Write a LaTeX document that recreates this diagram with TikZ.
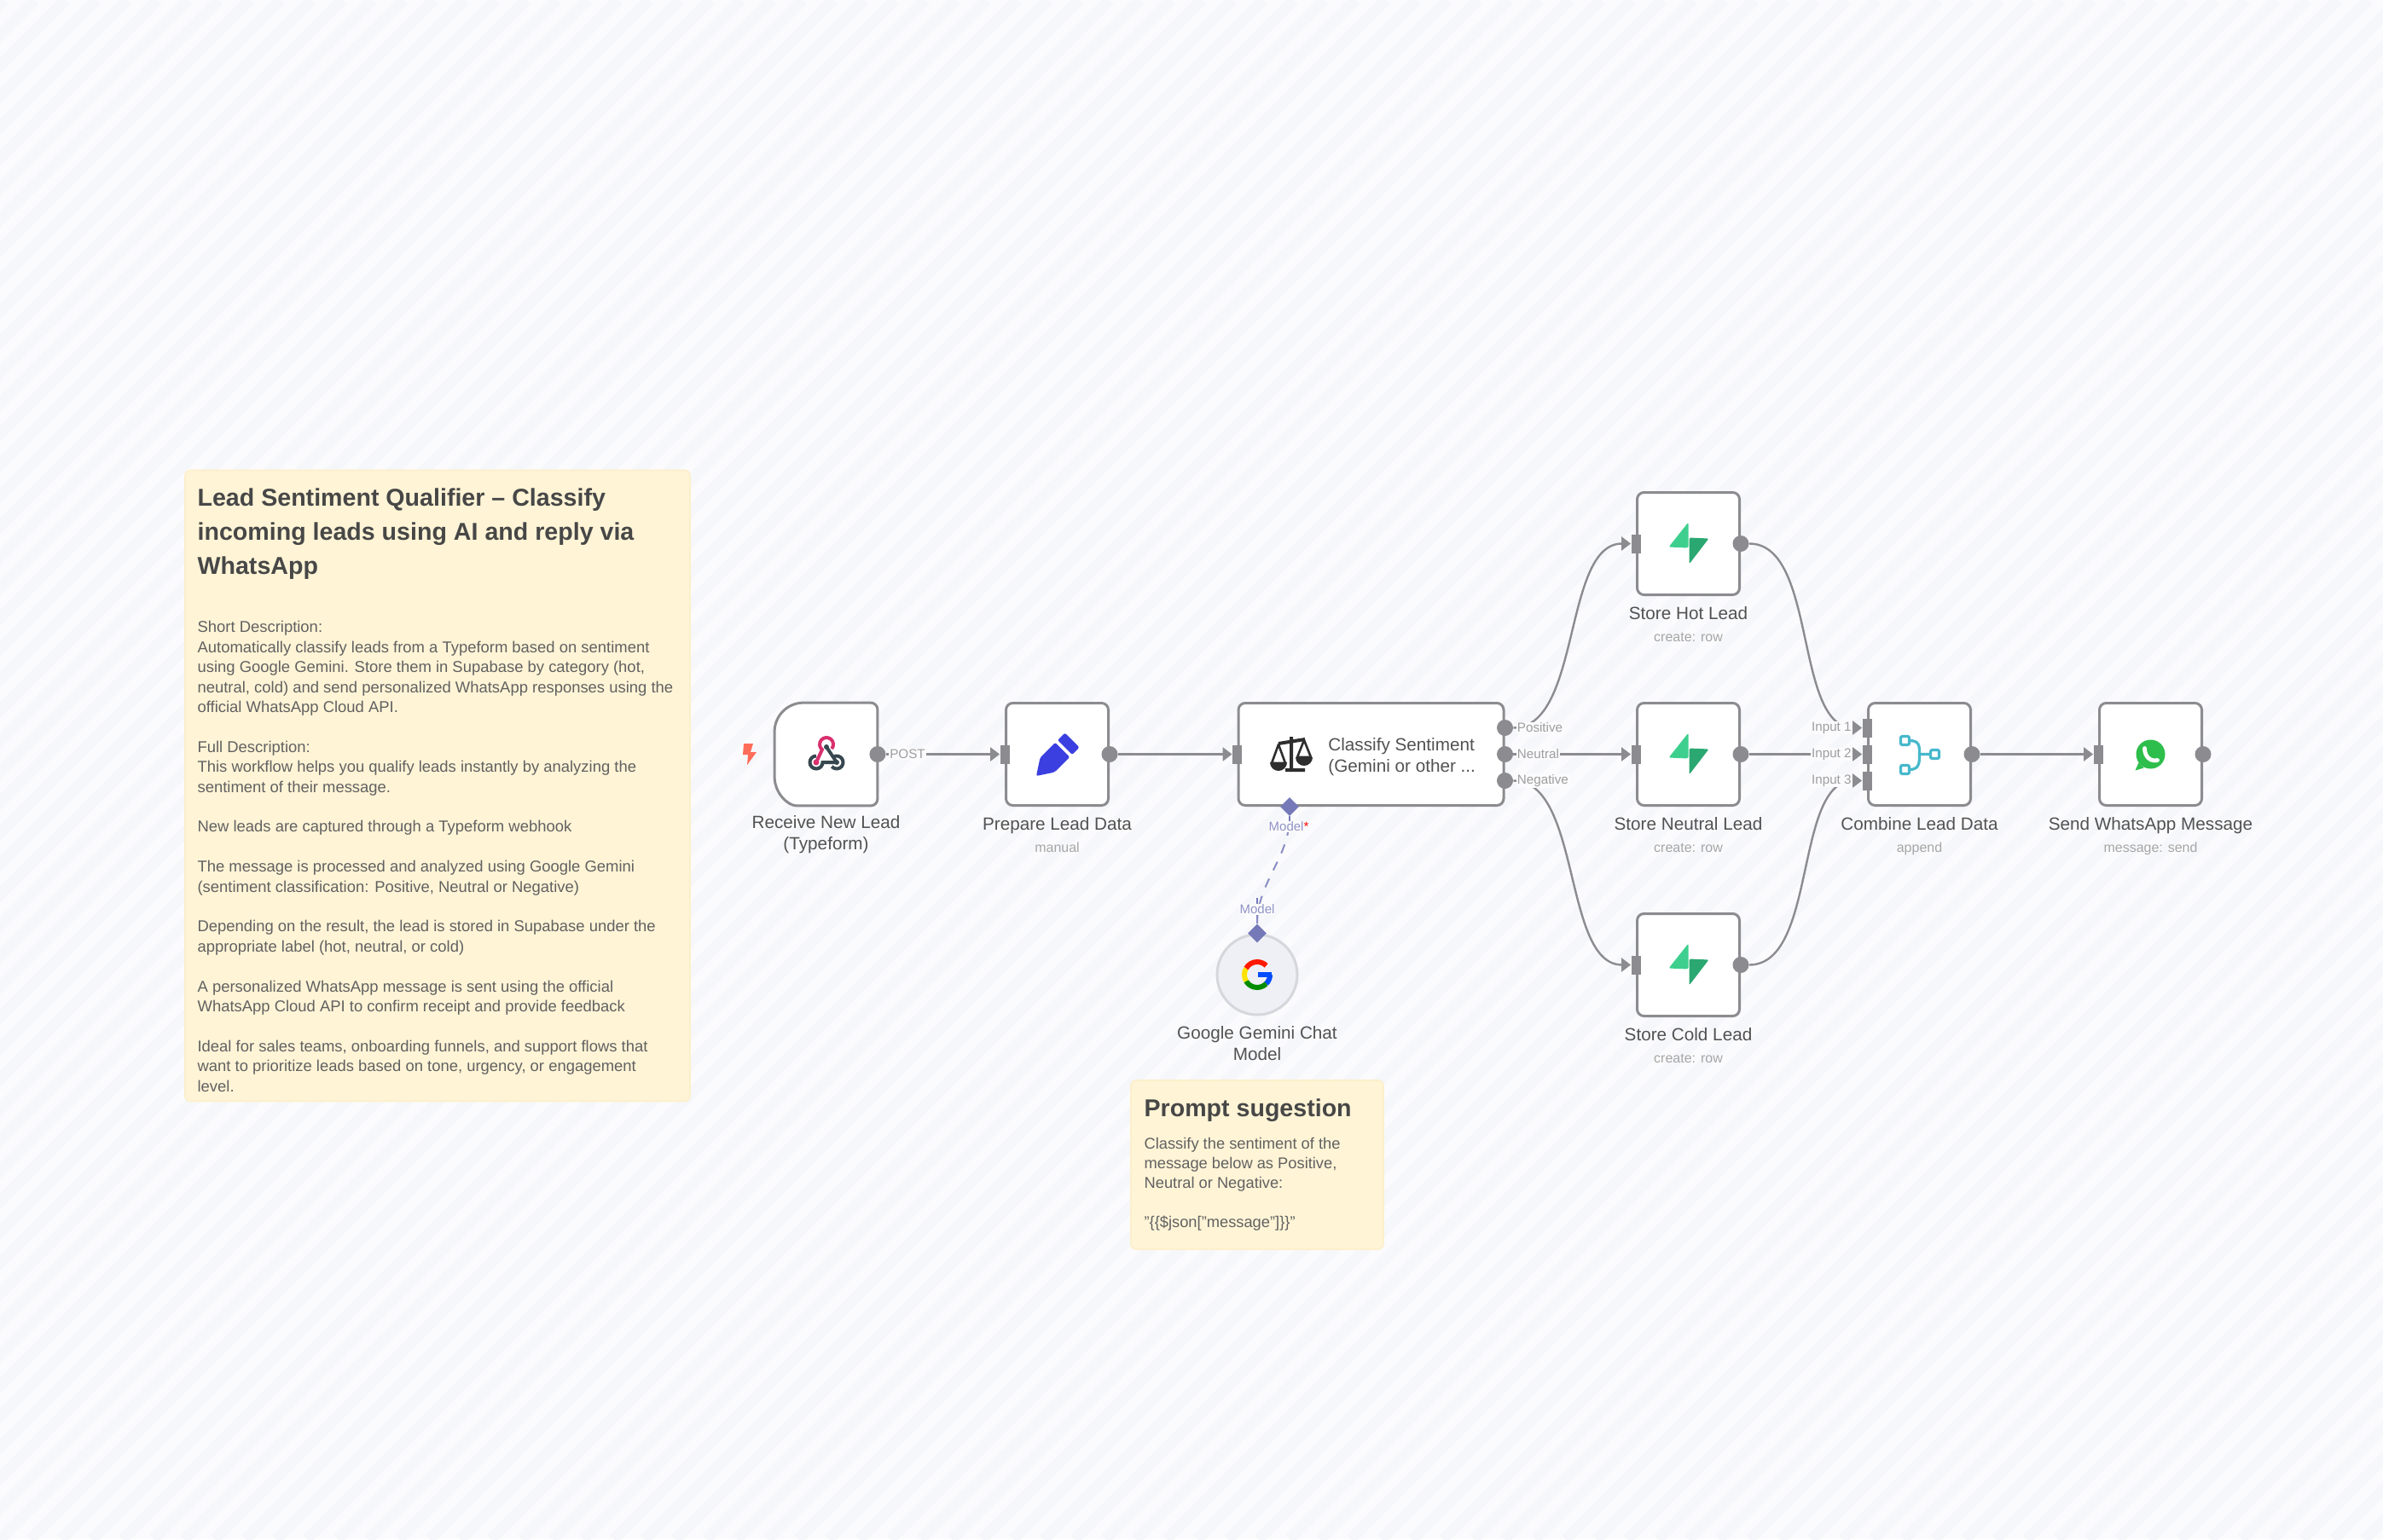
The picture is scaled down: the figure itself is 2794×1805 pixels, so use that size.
\documentclass[tikz,border=0pt]{standalone}
\usepackage{fontspec}
\setmainfont{Liberation Sans}
\usepackage{tikz}
\usetikzlibrary{shapes.geometric, arrows.meta}
\definecolor{paperbg}{HTML}{FBFBFD}
\definecolor{paperstripe}{HTML}{F6F7FA}
\definecolor{flowgray}{HTML}{8C8C90}
\definecolor{notefill}{HTML}{FFF4D6}
\definecolor{noteline}{HTML}{FCEFCB}
\definecolor{modelblue}{HTML}{7679B8}
\definecolor{geminifill}{HTML}{EEF0F5}
\definecolor{geminiline}{HTML}{D5D7DC}
\definecolor{supalight}{HTML}{3ECF8E}
\definecolor{supadark}{HTML}{2BA871}
\definecolor{mergeteal}{HTML}{46B8CC}
\definecolor{boltred}{HTML}{FF6D5A}
\definecolor{hookpink}{HTML}{D9306E}
\definecolor{hookdark}{HTML}{37474F}
\definecolor{pencilblue}{HTML}{3B3FE0}
\definecolor{whatsgreen}{HTML}{2DBE4B}
\tikzstyle{stripe} = [paperstripe, line width=6.4pt]
\tikzstyle{flowbox} = [rectangle, rounded corners=4pt, minimum width=60pt, minimum height=60pt, draw=flowgray, line width=1.5pt, fill=white]
\tikzstyle{classifybox} = [flowbox, minimum width=155.5pt]
\tikzstyle{triggerbox} = [rectangle, minimum width=60pt, minimum height=60pt]
\tikzstyle{triggerline} = [draw=flowgray, line width=1.5pt, fill=white]
\tikzstyle{modelcircle} = [circle, minimum size=47pt, draw=geminiline, line width=1.5pt, fill=geminifill]
\tikzstyle{outport} = [circle, minimum size=9.5pt, inner sep=0pt, fill=flowgray]
\tikzstyle{inport} = [rectangle, minimum width=5.5pt, minimum height=11pt, inner sep=0pt, fill=flowgray]
\tikzstyle{modelport} = [diamond, minimum size=11pt, inner sep=0pt, fill=modelblue]
\tikzstyle{arrow} = [flowgray, line width=1.2pt, -{Stealth[inset=0pt,length=5.5pt,width=8pt]}]
\tikzstyle{modelline} = [modelblue!85, line width=1pt, dash pattern=on 5.5pt off 5.5pt]
\tikzstyle{modelstem} = [modelblue, line width=1.2pt]
\tikzstyle{nametext} = [anchor=base, yshift=-13.5pt, inner sep=0pt, align=center, text=black!68, font=\fontsize{10.35}{12.5}\selectfont]
\tikzstyle{subtext} = [anchor=base, yshift=-26.5pt, inner sep=0pt, text=black!35, font=\fontsize{8}{10}\selectfont]
\tikzstyle{edgetag} = [inner sep=0.5pt, fill=paperbg, text=black!38, font=\fontsize{7.6}{8}\selectfont]
\tikzstyle{outtag} = [edgetag, anchor=west, xshift=6.5pt]
\tikzstyle{intag} = [edgetag, anchor=east, xshift=-8.5pt]
\tikzstyle{modeltag} = [inner sep=0.5pt, fill=paperbg, text=modelblue!80, font=\fontsize{7.5}{8}\selectfont]
\tikzstyle{notebox} = [rectangle, rounded corners=3pt, draw=noteline, line width=0.8pt, fill=notefill]
\tikzstyle{notetitle} = [anchor=north west, inner sep=0pt, align=left, text=black!72, font=\bfseries\fontsize{14.3}{19.8}\selectfont]
\tikzstyle{notebody} = [anchor=north west, inner sep=0pt, align=left, text=black!62, font=\fontsize{9.22}{11.7}\selectfont]
\tikzset{
    triggerbolt/.pic={
        \fill [boltred] (-6,-12) -- (5,-12) -- (2,-2) -- (9,-2) -- (-2,13) -- (-1,1) -- (-7,1) -- cycle;
    },
    webhookicon/.pic={
        \draw [hookdark, line width=2pt] (0,-9) -- (12,9);
        \draw [hookdark, line width=2pt] (-12,1.5) arc (270:0:7.5) -- (12,9);
        \draw [hookdark, line width=2pt] (8.25,2.5) arc (240:500:7.5);
        \draw [hookpink, line width=2pt] (-12,9) -- (-5.1,-5.9) arc (130:400:8);
        \fill [hookpink] (-12,9) circle [radius=3.5];
        \fill [hookdark] (0,-9) circle [radius=3];
        \fill [hookdark] (12,9) circle [radius=3];
    },
    pencilicon/.pic={
        \fill [pencilblue, rounded corners=1pt] (-25,25) -- (-3.5,20.5) -- (14.2,2.8) -- (-2.8,-14.2) -- (-20.5,3.5) -- cycle;
        \fill [pencilblue, rounded corners=1pt] (17,0) -- (25.5,-8.5) -- (8.5,-25.5) -- (0,-17) -- cycle;
    },
    scaleicon/.pic={
        \draw [black!82, line width=2pt] (-14,-13) -- (17,-18) (1,-21) -- (1,18) (-6,18) -- (17,18);
        \draw [black!82, line width=1.3pt, line join=round] (-22,10) -- (-14,-12) -- (-6,10) -- cycle (8,3) -- (16,-17) -- (24,3) -- cycle;
        \fill [black!82] (-24,9) arc (180:0:10) -- cycle;
        \fill [black!82] (6,3) arc (180:0:10) -- cycle;
    },
    supabolt/.pic={
        \fill [supalight, rounded corners=0.8pt] (0,-25) -- (-23,4) -- (0,5) -- cycle;
        \fill [supadark, rounded corners=0.8pt] (1,-7) -- (24,-6) -- (1,24) -- cycle;
    },
    mergeicon/.pic={
        \draw [mergeteal, line width=1.6pt, rounded corners=1pt] (-22,-21) rectangle (-12,-11) (-22,13) rectangle (-12,23) (13,-5) rectangle (23,5);
        \draw [mergeteal, line width=1.6pt] (-12,-16) .. controls (0,-16) and (0,-10) .. (0,0) .. controls (0,10) and (0,18) .. (-12,18) (0,0) -- (13,0);
    },
    whatsappicon/.pic={
        \fill [whatsgreen] (-14,10) -- (-18,19) -- (-8,16) -- cycle;
        \fill [whatsgreen] (0,0) circle [radius=17];
        \draw [white, line width=2.4pt, line cap=round] (-7,-7) .. controls (-7,3) and (0,9) .. (8,7);
    },
    googleicon/.pic={
        \draw [blue!70!cyan, line width=3pt] (1,0) -- (17,0);
        \draw [blue!70!cyan, line width=3pt] (15,0) arc (0:45:15);
        \draw [green!55!black, line width=3pt] (45:15) arc (45:150:15);
        \draw [yellow!85!orange, line width=3pt] (150:15) arc (150:210:15);
        \draw [red!80!orange, line width=3pt] (210:15) arc (210:315:15);
    }
}
\begin{document}
\begin{tikzpicture}[x=0.5pt, y=-0.5pt, node distance=135.5pt]
    \useasboundingbox (0,0) rectangle (2794,1805);
    \fill [paperbg] (0,0) rectangle (2794,1805);
    \begin{scope}
    \clip (0,0) rectangle (2794,1805);
    \foreach \k in {-1800,-1764,...,2800} {
        \draw [stripe] (\k,1805) -- (\k+1805,0);
    }
    \end{scope}

    \node (Note) [notebox, minimum width=296pt, minimum height=370pt] at (513,921.5) {};
    \node (NoteTitle) [notetitle] at ([xshift=7.5pt,yshift=-11pt]Note.north west) {Lead Sentiment Qualifier – Classify\\incoming leads using AI and reply via\\WhatsApp};
    \node (NoteBody) [notebody] at ([xshift=7.5pt,yshift=-88.7pt]Note.north west) {Short Description:\\Automatically classify leads from a Typeform based on sentiment\\using Google Gemini. Store them in Supabase by category (hot,\\neutral, cold) and send personalized WhatsApp responses using the\\official WhatsApp Cloud API.\\[11.7pt]Full Description:\\This workflow helps you qualify leads instantly by analyzing the\\sentiment of their message.\\[11.7pt]New leads are captured through a Typeform webhook\\[11.7pt]The message is processed and analyzed using Google Gemini\\(sentiment classification: Positive, Neutral or Negative)\\[11.7pt]Depending on the result, the lead is stored in Supabase under the\\appropriate label (hot, neutral, or cold)\\[11.7pt]A personalized WhatsApp message is sent using the official\\WhatsApp Cloud API to confirm receipt and provide feedback\\[11.7pt]Ideal for sales teams, onboarding funnels, and support flows that\\want to prioritize leads based on tone, urgency, or engagement\\level.};

    \node (Receive) [triggerbox] at (968.5,884.5) {};
    \draw [triggerline] ([xshift=17pt]Receive.north west) [rounded corners=4pt] -- (Receive.north east) -- (Receive.south east) -- ([xshift=17pt]Receive.south west) [sharp corners] arc (90:180:34) -- ([yshift=-17pt]Receive.north west) arc (180:270:34) -- cycle;
    \node (Prepare) [flowbox, right of = Receive] {};
    \node (Classify) [classifybox, right of = Prepare, xshift=48.5pt] {};
    \node (StoreNeutral) [flowbox, right of = Classify, xshift=50.5pt] {};
    \node (StoreHot) [flowbox, above of = StoreNeutral, yshift=-12pt] {};
    \node (StoreCold) [flowbox, below of = StoreNeutral, yshift=12pt] {};
    \node (Combine) [flowbox, right of = StoreNeutral] {};
    \node (Send) [flowbox, right of = Combine] {};
    \node (Gemini) [modelcircle] at (1474,1143) {};

    \node (ReceiveOut) [outport] at (Receive.east) {};
    \node (PrepareIn) [inport] at (Prepare.west) {};
    \node (PrepareOut) [outport] at (Prepare.east) {};
    \node (ClassifyIn) [inport] at (Classify.west) {};
    \node (PositiveOut) [outport, yshift=15.5pt] at (Classify.east) {};
    \node (NeutralOut) [outport] at (Classify.east) {};
    \node (NegativeOut) [outport, yshift=-15.5pt] at (Classify.east) {};
    \node (HotIn) [inport] at (StoreHot.west) {};
    \node (HotOut) [outport] at (StoreHot.east) {};
    \node (NeutralIn) [inport] at (StoreNeutral.west) {};
    \node (StoreNeutralOut) [outport] at (StoreNeutral.east) {};
    \node (ColdIn) [inport] at (StoreCold.west) {};
    \node (ColdOut) [outport] at (StoreCold.east) {};
    \node (CombineInA) [inport, yshift=15.5pt] at (Combine.west) {};
    \node (CombineInB) [inport] at (Combine.west) {};
    \node (CombineInC) [inport, yshift=-15.5pt] at (Combine.west) {};
    \node (CombineOut) [outport] at (Combine.east) {};
    \node (SendIn) [inport] at (Send.west) {};
    \node (SendOut) [outport] at (Send.east) {};
    \node (ClassifyModel) [modelport] at (1512,946) {};
    \node (GeminiModel) [modelport] at (Gemini.north) {};
    \coordinate (ClassifyStem) at ([yshift=-9pt]ClassifyModel.center);
    \coordinate (GeminiStem) at ([yshift=21pt]GeminiModel.center);

    \draw [arrow] (ReceiveOut) -- (PrepareIn);
    \draw [arrow] (PrepareOut) -- (ClassifyIn);
    \draw [arrow] (NeutralOut) -- (NeutralIn);
    \draw [arrow] (PositiveOut.east) .. controls +(40pt,0) and +(-40pt,0) .. (HotIn.west);
    \draw [arrow] (NegativeOut.east) .. controls +(40pt,0) and +(-40pt,0) .. (ColdIn.west);
    \draw [arrow] (StoreNeutralOut) -- (CombineInB);
    \draw [arrow] (HotOut.east) .. controls +(40pt,0) and +(-40pt,0) .. (CombineInA.west);
    \draw [arrow] (ColdOut.east) .. controls +(40pt,0) and +(-40pt,0) .. (CombineInC.west);
    \draw [arrow] (CombineOut) -- (SendIn);
    \draw [modelstem] (ClassifyModel) -- (ClassifyStem);
    \draw [modelstem] (GeminiModel) -- (GeminiStem);
    \draw [modelline] (GeminiModel) .. controls +(0,-60) and +(0,60) .. (ClassifyModel);

    \node (PostTag) [outtag] at (ReceiveOut) {POST};
    \node (PositiveTag) [outtag] at (PositiveOut) {Positive};
    \node (NeutralTag) [outtag] at (NeutralOut) {Neutral};
    \node (NegativeTag) [outtag] at (NegativeOut) {Negative};
    \node (InputTagA) [intag] at (CombineInA) {Input 1};
    \node (InputTagB) [intag] at (CombineInB) {Input 2};
    \node (InputTagC) [intag] at (CombineInC) {Input 3};
    \node (ClassifyModelTag) [modeltag] at (1511,969) {Model\textcolor{red}{*}};
    \node (GeminiModelTag) [modeltag] at (1474,1066) {Model};

    \pic at (878,884) {triggerbolt};
    \pic at (969,885) {webhookicon};
    \pic at (1240,885) {pencilicon};
    \pic at (1513,885) {scaleicon};
    \pic at (StoreHot) {supabolt};
    \pic at (StoreNeutral) {supabolt};
    \pic at (StoreCold) {supabolt};
    \pic at (Combine) {mergeicon};
    \pic at (Send) {whatsappicon};
    \pic at (Gemini) {googleicon};

    \node (ClassifyName) [anchor=base west, inner sep=0pt, align=left, text=black!68, font=\fontsize{10.35}{12.5}\selectfont] at (1557,905) {Classify Sentiment\\(Gemini or other ...};
    \node (ReceiveName) [nametext, yshift=-12.5pt] at (Receive.south) {Receive New Lead\\(Typeform)};
    \node (PrepareName) [nametext] at (Prepare.south) {Prepare Lead Data};
    \node (PrepareSub) [subtext] at (Prepare.south) {manual};
    \node (HotName) [nametext] at (StoreHot.south) {Store Hot Lead};
    \node (HotSub) [subtext] at (StoreHot.south) {create: row};
    \node (NeutralName) [nametext] at (StoreNeutral.south) {Store Neutral Lead};
    \node (NeutralSub) [subtext] at (StoreNeutral.south) {create: row};
    \node (ColdName) [nametext] at (StoreCold.south) {Store Cold Lead};
    \node (ColdSub) [subtext] at (StoreCold.south) {create: row};
    \node (CombineName) [nametext] at (Combine.south) {Combine Lead Data};
    \node (CombineSub) [subtext] at (Combine.south) {append};
    \node (SendName) [nametext] at (Send.south) {Send WhatsApp Message};
    \node (SendSub) [subtext] at (Send.south) {message: send};
    \node (GeminiName) [nametext, yshift=-12.5pt] at (Gemini.south) {Google Gemini Chat\\Model};

    \node (Prompt) [notebox, minimum width=148pt, minimum height=99pt] at (1474,1366) {};
    \node (PromptTitle) [notetitle] at ([xshift=8pt,yshift=-11pt]Prompt.north west) {Prompt sugestion};
    \node (PromptBody) [notebody, font=\fontsize{9.15}{11.4}\selectfont] at ([xshift=8pt,yshift=-34pt]Prompt.north west) {Classify the sentiment of the\\message below as Positive,\\Neutral or Negative:\\[11.4pt]"\{\{\$json["message"]\}\}"};
\end{tikzpicture}
\end{document}
